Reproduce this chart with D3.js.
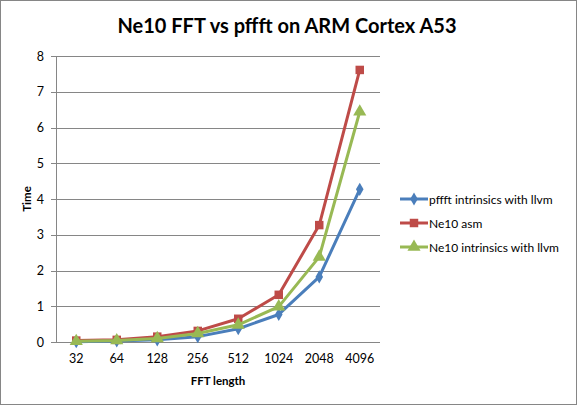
<!DOCTYPE html>
<html>
<head>
<meta charset="utf-8">
<script src="https://cdn.jsdelivr.net/npm/d3@7"></script>
<style>
  html, body { margin: 0; padding: 0; background: #fff; }
  svg { display: block; font-family: Lato, "Open Sans", sans-serif; }
</style>
</head>
<body>
<div id="chart"></div>
<script>
const categories = ['32', '64', '128', '256', '512', '1024', '2048', '4096']
const pffftIntrinsics = [0.01, 0.03, 0.06, 0.15, 0.37, 0.77, 1.82, 4.27]
const ne10Asm = [0.04, 0.06, 0.15, 0.31, 0.65, 1.32, 3.27, 7.61]
const ne10Intrinsics = [0.02, 0.04, 0.1, 0.24, 0.48, 0.99, 2.38, 6.44]
const yTicks = [0, 1, 2, 3, 4, 5, 6, 7, 8]

const series = [
  { name: 'pffft intrinsics with llvm', values: pffftIntrinsics, color: '#4a7ebb', symbol: d3.symbolDiamond, size: 50 },
  { name: 'Ne10 asm', values: ne10Asm, color: '#be4b48', symbol: d3.symbolSquare, size: 72 },
  { name: 'Ne10 intrinsics with llvm', values: ne10Intrinsics, color: '#98b954', symbol: d3.symbolTriangle, size: 75 }
]

const W = 577, H = 405
const margin = { top: 56, right: 197, bottom: 63, left: 56 }
const w = W - margin.left - margin.right
const h = H - margin.top - margin.bottom

const svg = d3.select('#chart').append('svg').attr('width', W).attr('height', H)

// chart border
svg.append('rect')
  .attr('x', 0.5).attr('y', 0.5).attr('width', W - 1).attr('height', H - 1)
  .attr('fill', '#fff').attr('stroke', '#868686')

svg.append('text')
  .attr('x', 287).attr('y', 33)
  .attr('text-anchor', 'middle')
  .attr('font-size', 20).attr('font-weight', 'bold').attr('fill', '#000')
  .text('Ne10 FFT vs pffft on ARM Cortex A53')

const g = svg.append('g').attr('transform', `translate(${margin.left},${margin.top})`)

const x = d3.scaleBand().domain(categories).range([0, w])
const y = d3.scaleLinear().domain([0, 8]).range([h, 0])

// gridlines
g.append('g')
  .selectAll('line')
  .data(yTicks)
  .join('line')
  .attr('x1', -5).attr('x2', w)
  .attr('y1', d => Math.round(y(d)) + 0.5).attr('y2', d => Math.round(y(d)) + 0.5)
  .attr('stroke', '#868686').attr('stroke-width', 1)

// y axis line
g.append('line')
  .attr('x1', 0.5).attr('x2', 0.5).attr('y1', 0).attr('y2', h)
  .attr('stroke', '#868686')

const yAxis = g.append('g').call(d3.axisLeft(y).tickValues(yTicks).tickSize(0).tickPadding(12))
yAxis.select('.domain').remove()
yAxis.selectAll('text').attr('font-size', 12.5).attr('fill', '#000').attr('font-family', 'Lato, sans-serif')

const xAxis = g.append('g').attr('transform', `translate(0,${h})`)
  .call(d3.axisBottom(x).tickSize(0).tickPadding(12))
xAxis.select('.domain').remove()
xAxis.selectAll('text').attr('font-size', 12.5).attr('fill', '#000').attr('font-family', 'Lato, sans-serif')

svg.append('text')
  .attr('x', margin.left + w / 2).attr('y', 385)
  .attr('text-anchor', 'middle').attr('font-size', 11.5).attr('font-weight', 'bold')
  .text('FFT length')

svg.append('text')
  .attr('transform', `translate(31,${margin.top + h / 2}) rotate(-90)`)
  .attr('text-anchor', 'middle').attr('font-size', 11.5).attr('font-weight', 'bold')
  .text('Time')

const lineGen = d3.line()
  .x((d, i) => x(categories[i]) + x.bandwidth() / 2)
  .y(d => y(d))

series.forEach(s => {
  g.append('path')
    .datum(s.values)
    .attr('fill', 'none')
    .attr('stroke', s.color)
    .attr('stroke-width', 3)
    .attr('stroke-linejoin', 'round')
    .attr('d', lineGen)

  g.selectAll(null)
    .data(s.values)
    .join('path')
    .attr('transform', (d, i) => `translate(${x(categories[i]) + x.bandwidth() / 2},${y(d)})`)
    .attr('d', d3.symbol().type(s.symbol).size(s.size))
    .attr('fill', s.color)
})

// legend
const legend = svg.append('g').attr('transform', 'translate(400,199)')
series.forEach((s, i) => {
  const row = legend.append('g').attr('transform', `translate(0,${i * 24})`)
  row.append('line')
    .attr('x1', 0).attr('x2', 28).attr('y1', 0).attr('y2', 0)
    .attr('stroke', s.color).attr('stroke-width', 3)
  row.append('path')
    .attr('transform', 'translate(14,0)')
    .attr('d', d3.symbol().type(s.symbol).size(s.size))
    .attr('fill', s.color)
  row.append('text')
    .attr('x', 29).attr('y', 4.5)
    .attr('font-size', 12).attr('fill', '#000')
    .text(s.name)
})
</script>
</body>
</html>
